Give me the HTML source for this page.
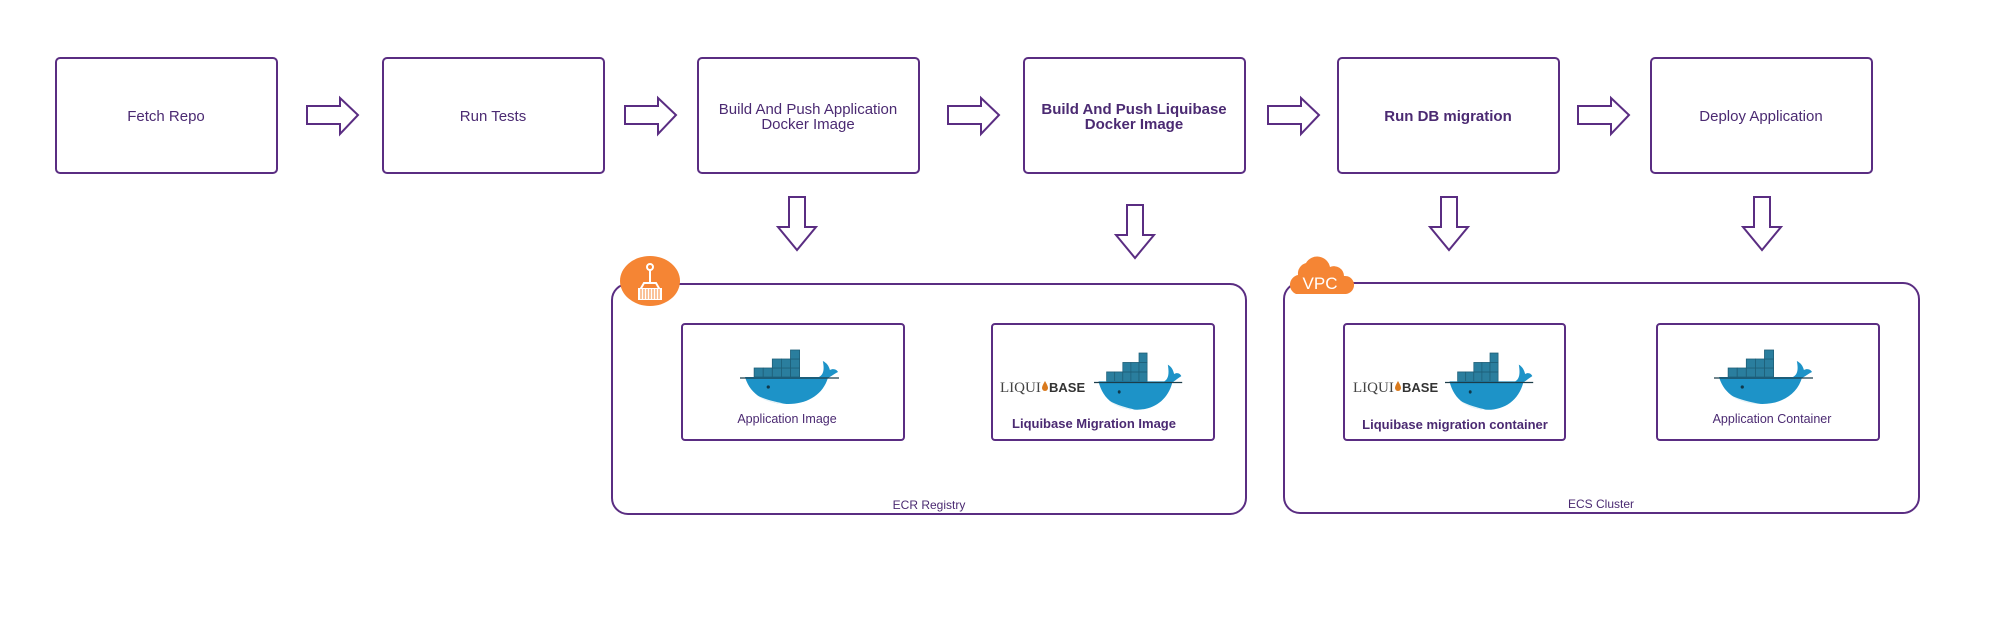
<!DOCTYPE html>
<html><head><meta charset="utf-8"><style>
body{margin:0;background:#fff;width:2000px;height:624px;overflow:hidden}
</style></head><body>
<svg width="2000" height="624" xmlns="http://www.w3.org/2000/svg" font-family="Liberation Sans, sans-serif">
<defs>
<g id="whale">
  <g fill="#2a7e9e" stroke="#1e5f78" stroke-width="0.8">
    <rect x="14" y="19" width="9" height="9"/><rect x="23" y="19" width="9" height="9"/><rect x="32" y="19" width="9" height="9"/><rect x="41" y="19" width="9" height="9"/><rect x="50" y="19" width="9" height="9"/>
    <rect x="32" y="10" width="9" height="9"/><rect x="41" y="10" width="9" height="9"/><rect x="50" y="10" width="9" height="9"/>
    <rect x="50" y="1" width="9" height="9"/>
  </g>
  <path d="M5,28 H78 C82,26 84,22 82,12 C86,14 88,17 89,21 C93,19 96,21 97,23 C93,25 91,27 87,29 C82,46 66,55 48,55 C26,55 10,46 5,28 Z" fill="#1d93c8"/>
  <path d="M16,46 C24,52 34,55 46,55 C36,53 26,51 16,46 Z" fill="#e6f3f8"/>
  <path d="M0,29 H98" stroke="#1c3d4a" stroke-width="1.2"/>
  <circle cx="28" cy="38" r="1.6" fill="#10384a"/>
</g>
<g id="rarrow"><path d="M0,8 H33 V0 L51,17 L33,36 V26 H0 Z" fill="#fff" stroke="#5a2d82" stroke-width="2"/></g>
<g id="darrow"><path d="M11,0 H27 V30 H38 L19,53 L0,30 H11 Z" fill="#fff" stroke="#5a2d82" stroke-width="2"/></g>
</defs>
<g fill="#fff" stroke="#5a2d82" stroke-width="2">
<rect x="56" y="58" width="221" height="115" rx="4"/>
<rect x="383" y="58" width="221" height="115" rx="4"/>
<rect x="698" y="58" width="221" height="115" rx="4"/>
<rect x="1024" y="58" width="221" height="115" rx="4"/>
<rect x="1338" y="58" width="221" height="115" rx="4"/>
<rect x="1651" y="58" width="221" height="115" rx="4"/>
<rect x="612" y="284" width="634" height="230" rx="16"/>
<rect x="1284" y="283" width="635" height="230" rx="16"/>
<rect x="682" y="324" width="222" height="116" rx="3"/>
<rect x="992" y="324" width="222" height="116" rx="3"/>
<rect x="1344" y="324" width="221" height="116" rx="3"/>
<rect x="1657" y="324" width="222" height="116" rx="3"/>
</g>
<use href="#rarrow" x="307" y="98"/>
<use href="#rarrow" x="625" y="98"/>
<use href="#rarrow" x="948" y="98"/>
<use href="#rarrow" x="1268" y="98"/>
<use href="#rarrow" x="1578" y="98"/>
<use href="#darrow" x="778" y="197"/>
<use href="#darrow" x="1116" y="205"/>
<use href="#darrow" x="1430" y="197"/>
<use href="#darrow" x="1743" y="197"/>
<g fill="#4b2a72" font-size="15" text-anchor="middle">
<text x="166" y="121">Fetch Repo</text>
<text x="493" y="121">Run Tests</text>
<text x="808" y="114">Build And Push Application</text>
<text x="808" y="129">Docker Image</text>
<text x="1134" y="114" font-weight="bold">Build And Push Liquibase</text>
<text x="1134" y="129" font-weight="bold">Docker Image</text>
<text x="1448" y="121" font-weight="bold">Run DB migration</text>
<text x="1761" y="121">Deploy Application</text>
<text x="787" y="423" font-size="12.5">Application Image</text>
<text x="1094" y="428" font-size="13" font-weight="bold">Liquibase Migration Image</text>
<text x="1455" y="429" font-size="13" font-weight="bold">Liquibase migration container</text>
<text x="1772" y="423" font-size="12.5">Application Container</text>
<text x="929" y="509" font-size="12">ECR Registry</text>
<text x="1601" y="508" font-size="12">ECS Cluster</text>
</g>
<use href="#whale" transform="translate(740,349) scale(1.01,1)"/>
<use href="#whale" transform="translate(1094,352) scale(0.9,1.05)"/>
<use href="#whale" transform="translate(1445,352) scale(0.9,1.05)"/>
<use href="#whale" transform="translate(1714,349) scale(1.01,1)"/>
<g font-size="15">
<text x="1000" y="392" font-family="Liberation Serif, serif" fill="#444">LIQUI</text>
<path d="M1045,381 q3,5 3,7 a3,3 0 0 1 -6,0 q0,-2 3,-7z" fill="#d97a1e"/>
<text x="1049" y="392" font-weight="bold" font-size="13" fill="#333">BASE</text>
<text x="1353" y="392" font-family="Liberation Serif, serif" fill="#444">LIQUI</text>
<path d="M1398,381 q3,5 3,7 a3,3 0 0 1 -6,0 q0,-2 3,-7z" fill="#d97a1e"/>
<text x="1402" y="392" font-weight="bold" font-size="13" fill="#333">BASE</text>
</g>
<ellipse cx="650" cy="281" rx="30" ry="25" fill="#f58534"/>
<g stroke="#fff" stroke-width="2" fill="none">
<circle cx="650" cy="267" r="3"/><path d="M650,270 V283 M640,290 L644,283 H656 L660,290"/>
</g>
<rect x="638" y="288" width="24" height="12" fill="#fff"/>
<g stroke="#f58534" stroke-width="1"><path d="M641,289v10M644,289v10M647,289v10M650,289v10M653,289v10M656,289v10M659,289v10"/></g>
<path d="M1296,294 a10,10 0 0 1 2,-19 a11,11 0 0 1 8,-12 a13,13 0 0 1 24,4 a10,10 0 0 1 14,9 a9,9 0 0 1 2,18 Z" fill="#f58534"/>
<text x="1320" y="289" font-size="17" fill="#fff" text-anchor="middle">VPC</text>
</svg>
</body></html>
